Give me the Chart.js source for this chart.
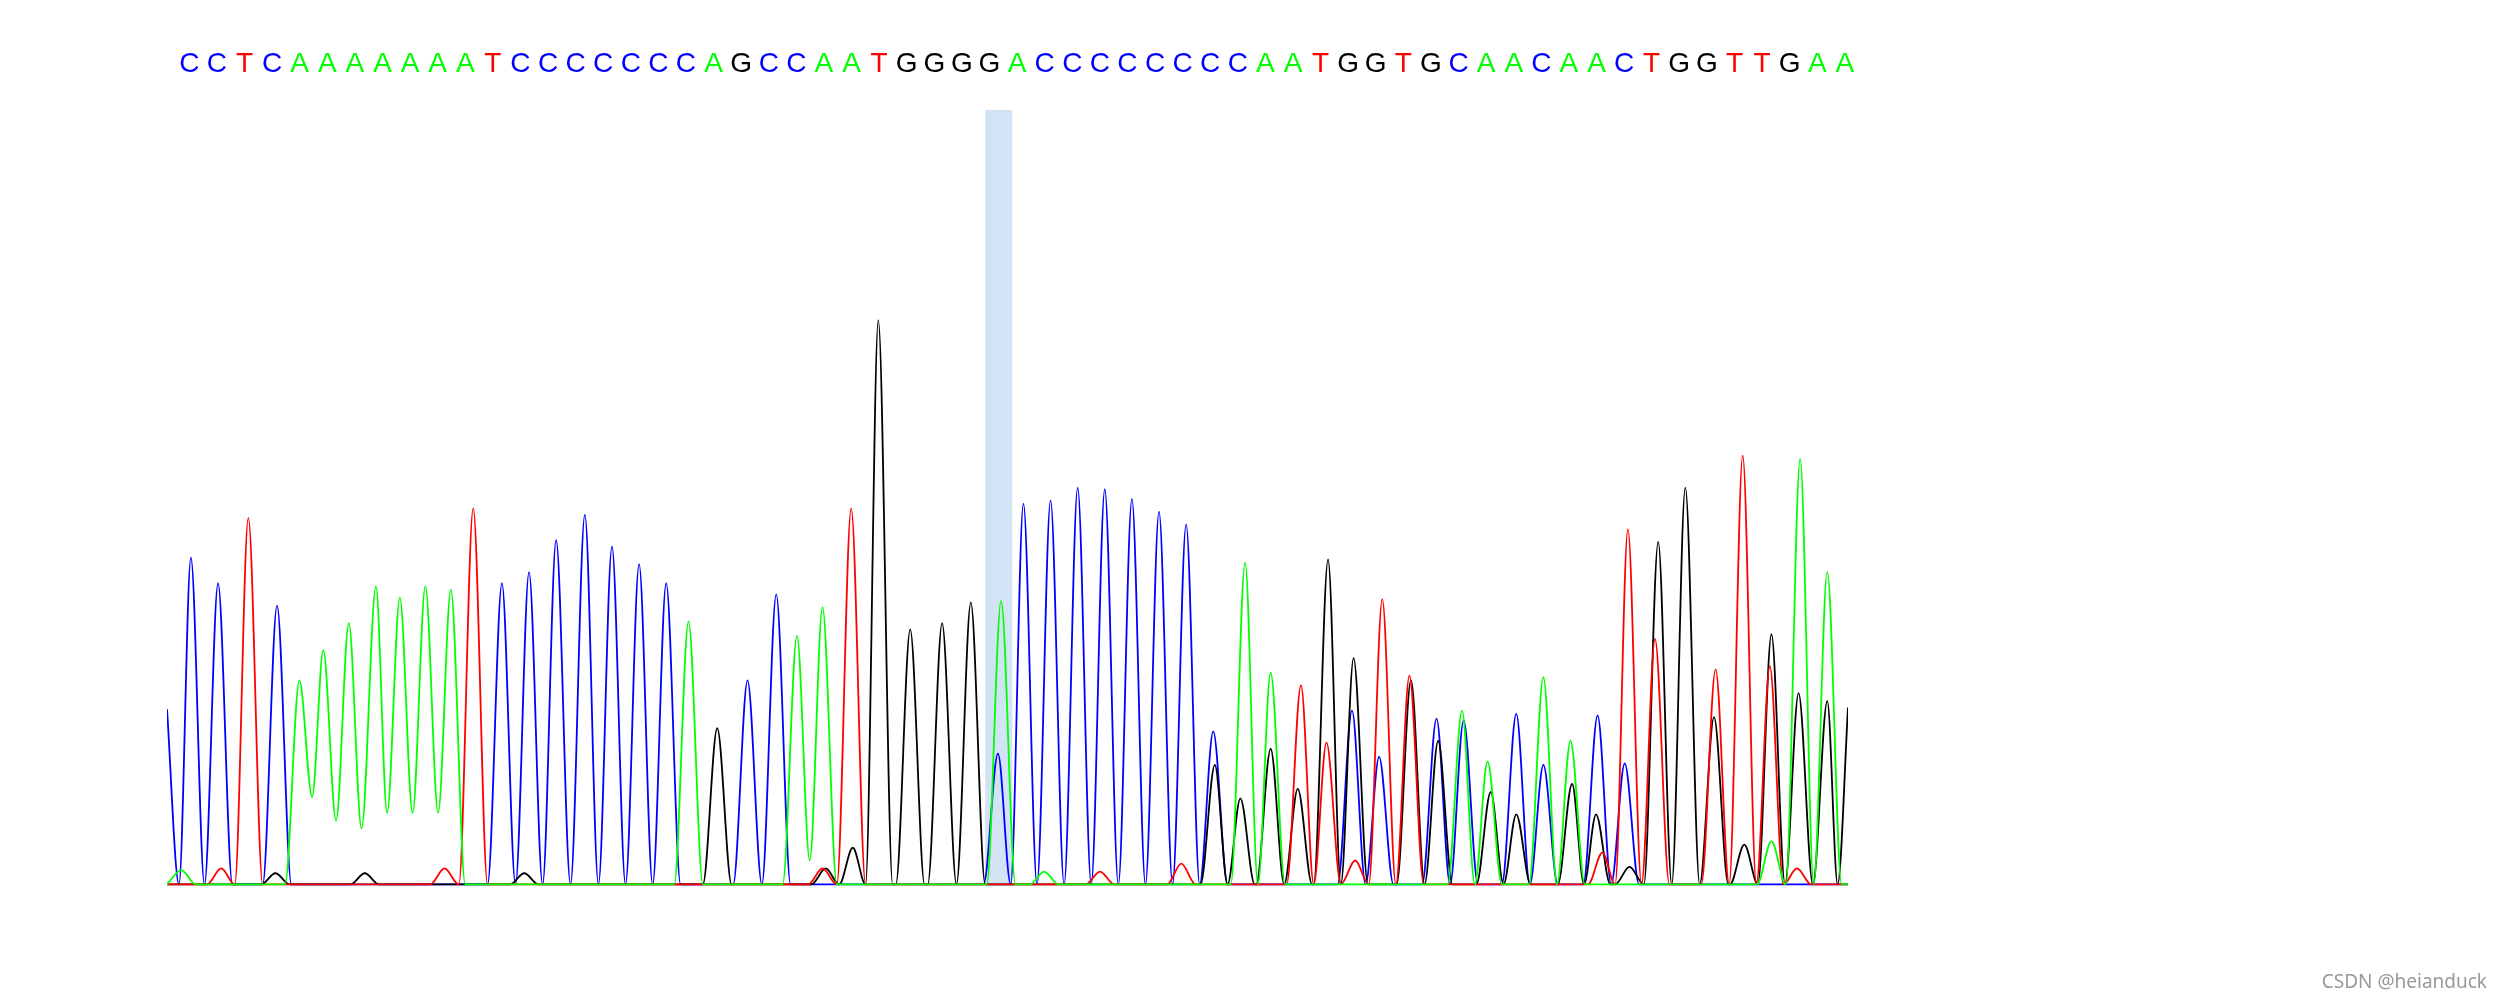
<!DOCTYPE html><html><head><style>html,body{margin:0;background:#fff}</style>
<script src="https://cdn.jsdelivr.net/npm/chart.js@4"></script></head><body>
<div style="width:2500px;height:1000px"><canvas id="c" width="2500" height="1000"></canvas></div>
<script>
const sequence = "CCTCAAAAAAATCCCCCCCAGCCAATGGGGACCCCCCCCAATGGTGCAACAACTGGTTGAA";
const baseY = 556;
const bluePeaks = [[105,445],[120,350],[137,366],[174,380],[315,366],[332,359],[349,339],[367,323],[384,343],[401,354],[418,366],[469,427],[487,373],[626,473],[642,316],[659,314],[676,306],[693,307],[710,313],[727,321],[744,329],[761,459],[848,446],[865,475],[901,451],[918,452],[951,448],[968,480],[1002,449],[1019,479]];
const redPeaks = [[139,545],[156,325],[279,545],[297,319],[516,545],[534,319],[690,547],[741,542],[816,430],[832,466],[850,540],[867,376],[884,424],[1005,535],[1021,332],[1038,401],[1076,420],[1093,286],[1110,418],[1127,545]];
const greenPeaks = [[114,546],[188,427],[203,408],[219,391],[236,368],[251,375],[267,368],[283,370],[432,390],[500,399],[516,381],[628,377],[655,547],[781,353],[797,422],[917,446],[933,478],[968,425],[985,465],[1111,528],[1129,288],[1146,359]];
const greenValleys = [[196,500],[211,515],[227,520],[243,510],[259,510],[275,510],[508,540]];
const blackPeaks = [[173,548],[229,548],[329,548],[450,457],[518,545],[535,532],[551,201],[571,395],[591,391],[609,378],[762,480],[778,501],[797,470],[814,495],[833,351],[849,413],[885,427],[902,465],[935,497],[951,511],[986,492],[1001,511],[1022,544],[1040,340],[1057,306],[1075,450],[1094,530],[1111,398],[1128,435],[1146,440],[1159,444]];
const highlight = [618,635];

function build(peaks, valleys=[]) {
  const pts = [];
  const all = peaks.map(p=>({x:p[0],y:baseY-p[1],pk:true}));
  valleys.forEach(v=>all.push({x:v[0],y:baseY-v[1],pk:false}));
  all.sort((a,b)=>a.x-b.x);
  if(all[0].x>105) pts.push({x:105,y:1});
  for (let i=0;i<all.length;i++){
    const p=all[i], prev=all[i-1], next=all[i+1];
    if(p.pk && prev && prev.pk){ pts.push({x:Math.max(p.x-9,(p.x+prev.x)/2),y:1}); }
    else if(p.pk && !prev && p.x>105){ pts.push({x:Math.max(105,p.x-9),y:1}); }
    pts.push({x:p.x,y:p.y});
    if(p.pk && p.x<1159 && (!next || (next.pk && next.x-9>p.x+9))) pts.push({x:Math.min(1159,p.x+9),y:1});
  }
  if(pts[pts.length-1].x<1159) pts.push({x:1159,y:1});
  pts.sort((a,b)=>a.x-b.x);
  return pts.filter((p,i,a)=>i===0||p.x!==a[i-1].x);
}
const colors = {A:'#00ff00',C:'#0000ff',G:'#000000',T:'#ff0000'};
const ds = (d,c)=>({data:d,borderColor:c,borderWidth:1.8,pointRadius:0,fill:false,cubicInterpolationMode:'monotone'});
const bgPlugin = {id:'bg',beforeDatasetsDraw(ch){const {ctx,scales:{x,y}}=ch;ctx.save();ctx.fillStyle='#d3e3f6';
  const l=x.getPixelForValue(highlight[0]),r=x.getPixelForValue(highlight[1]);ctx.fillRect(l,y.getPixelForValue(baseY-69),r-l,y.getPixelForValue(0)-y.getPixelForValue(baseY-69));ctx.restore();},
  afterDraw(ch){const {ctx,scales:{x}}=ch;ctx.save();ctx.font='28px "Liberation Sans"';ctx.textAlign='center';ctx.textBaseline='middle';
  for(let i=0;i<sequence.length;i++){ctx.fillStyle=colors[sequence[i]];ctx.fillText(sequence[i],x.getPixelForValue(119+i*17.3),64);}
  ctx.fillStyle='#999';ctx.font='19px "Noto Sans"';ctx.textAlign='right';ctx.fillText('CSDN @heianduck',2487,983);ctx.restore();}};
new Chart(document.getElementById('c'),{type:'line',
 data:{datasets:[ds(build(greenPeaks,greenValleys),colors.A),ds(build(redPeaks),colors.T),ds(build(blackPeaks),colors.G),ds(build(bluePeaks),colors.C)]},
 options:{responsive:false,animation:false,layout:{padding:{left:167,right:652,top:110,bottom:114}},
  plugins:{legend:{display:false},tooltip:{enabled:false}},
  scales:{x:{type:'linear',min:105,max:1159,display:false},y:{min:0,max:baseY-69,display:false}}},
 plugins:[bgPlugin]});
</script></body></html>
